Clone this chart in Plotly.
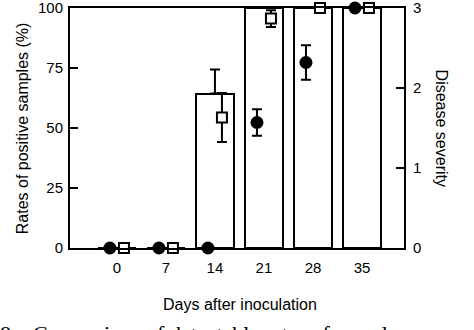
import plotly.graph_objects as go

# Sampling days after inoculation
days = [0, 7, 14, 21, 28, 35]

# Disease severity (bars, right axis) with upper error
severity = [0, 0, 1.93, 3, 3, 3]
severity_err = [0, 0, 0.30, 0, 0, 0]

# Rates of positive samples (%) for the two detection methods
rate_filled = [0, 0, 0, 52.3, 77.3, 100]
rate_filled_err = [0, 0, 0, 5.5, 7.2, 0]
rate_open = [0, 0, 54.4, 95.6, 100, 100]
rate_open_err = [0, 0, 10.2, 3.5, 0, 0]

x_ticks = [0, 7, 14, 21, 28, 35]
x_tick_text = ["0", "7", "14", "21", "28", "35"]
pct_ticks = [0, 25, 50, 75, 100]
sev_ticks = [0, 1, 2, 3]

FONT = "Liberation Sans, Arial, sans-serif"
fig = go.Figure()

fig.add_trace(go.Bar(
    x=days, y=severity, width=5.4, yaxis="y",
    marker=dict(color="white", line=dict(color="black", width=2)),
    error_y=dict(type="data", array=severity_err, arrayminus=[0] * 6,
                 symmetric=False, color="black", thickness=2, width=5),
    showlegend=False,
))

fig.add_trace(go.Scatter(
    x=[d - 1 for d in days], y=rate_filled, mode="markers", yaxis="y2",
    marker=dict(symbol="circle", size=13, color="black"),
    error_y=dict(type="data", array=rate_filled_err, color="black",
                 thickness=2, width=5),
    cliponaxis=False, showlegend=False,
))

fig.add_trace(go.Scatter(
    x=[d + 1 for d in days], y=rate_open, mode="markers", yaxis="y2",
    marker=dict(symbol="square", size=10, color="white",
                line=dict(color="black", width=2)),
    error_y=dict(type="data", array=rate_open_err, color="black",
                 thickness=2, width=5),
    cliponaxis=False, showlegend=False,
))

fig.update_layout(
    width=474, height=330,
    margin=dict(l=70, r=70, t=8, b=82),
    paper_bgcolor="white", plot_bgcolor="white",
    font=dict(family=FONT, size=15, color="black"),
    bargap=0,
    xaxis=dict(
        range=[-6.7, 41], tickvals=x_ticks, ticktext=x_tick_text,
        showgrid=False, zeroline=False, ticks="",
        showline=True, linecolor="black", linewidth=2, mirror=True,
        ticklabelstandoff=5, automargin=False,
    ),
    yaxis=dict(
        side="right", range=[0, 3], tickvals=sev_ticks,
        showgrid=False, zeroline=False,
        ticks="inside", ticklen=8, tickwidth=2, tickcolor="black",
        showline=True, linecolor="black", linewidth=2,
        ticklabelstandoff=4, ticklabeloverflow="allow", automargin=False,
    ),
    yaxis2=dict(
        overlaying="y", side="left", range=[0, 100], tickvals=pct_ticks,
        showgrid=False, zeroline=False,
        ticks="inside", ticklen=8, tickwidth=2, tickcolor="black",
        showline=True, linecolor="black", linewidth=2,
        ticklabelstandoff=2, ticklabeloverflow="allow", automargin=False,
    ),
    annotations=[
        dict(text="Rates of positive samples (%)", xref="paper", yref="paper",
             x=-0.143, y=0.5, textangle=-90, showarrow=False,
             xanchor="center", yanchor="middle", font=dict(size=16)),
        dict(text="Disease severity", xref="paper", yref="paper",
             x=1.115, y=0.50, textangle=90, showarrow=False,
             xanchor="center", yanchor="middle", font=dict(size=16)),
        dict(text="Days after inoculation", xref="paper", yref="paper",
             x=0.508, y=-0.235, showarrow=False,
             xanchor="center", yanchor="middle", font=dict(size=16)),
        dict(text="8.&nbsp;&nbsp;&nbsp;Comparison of detectable rates of samples among",
             xref="paper", yref="paper", x=-0.215, y=-0.297,
             showarrow=False, xanchor="left", yanchor="top",
             font=dict(family="Liberation Serif, Times New Roman, serif", size=22)),
    ],
)

fig.write_html("out.html")
